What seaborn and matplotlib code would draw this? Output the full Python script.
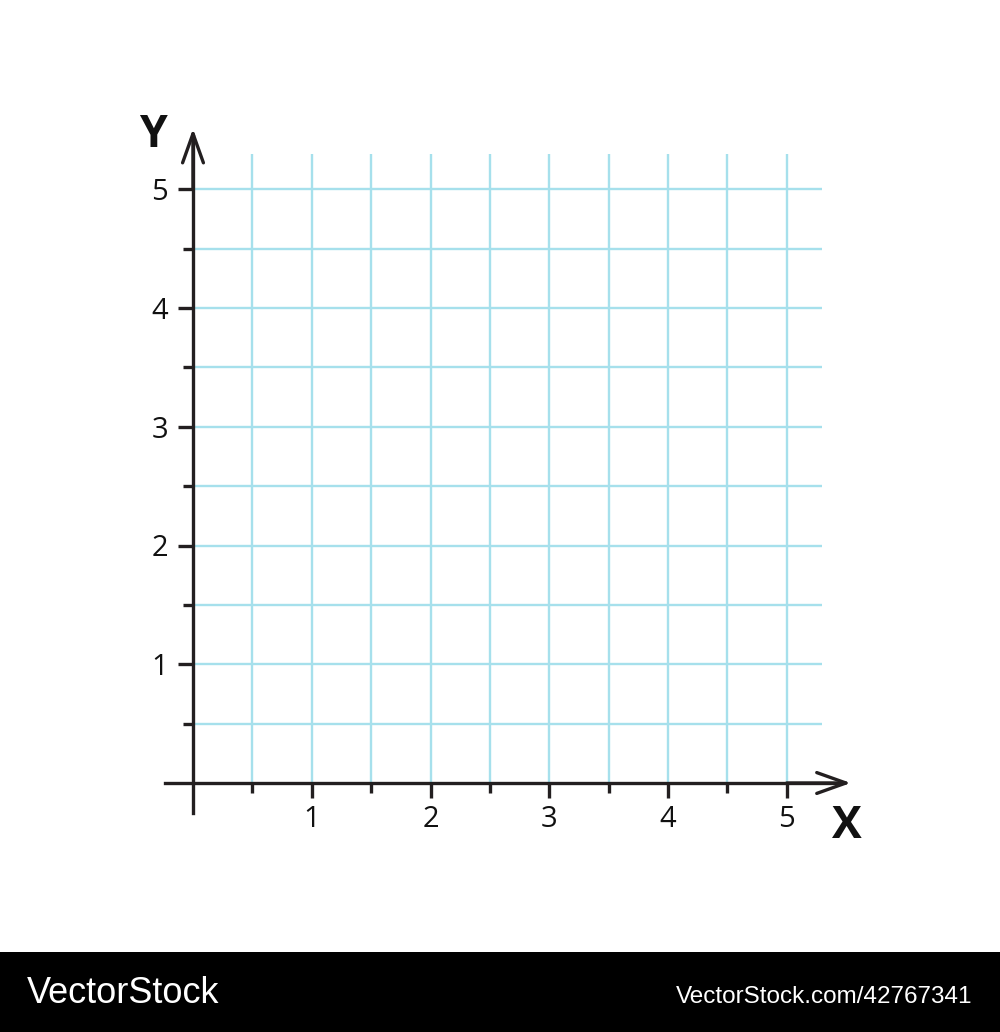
import matplotlib
matplotlib.use("Agg")
import matplotlib.pyplot as plt
from matplotlib.patches import Rectangle
import seaborn as sns

# tick values and grid positions (units of the chart)
x_major = [1, 2, 3, 4, 5]
x_minor = [0.5, 1.5, 2.5, 3.5, 4.5]
y_major = [1, 2, 3, 4, 5]
y_minor = [0.5, 1.5, 2.5, 3.5, 4.5]
x_labels = ["1", "2", "3", "4", "5"]
y_labels = ["1", "2", "3", "4", "5"]
grid_vals = [0.5, 1.0, 1.5, 2.0, 2.5, 3.0, 3.5, 4.0, 4.5, 5.0]
grid_end = 5.3

sns.set_theme(style="white")
plt.rcParams['font.family'] = ['Open Sans', 'DejaVu Sans']

axis_col = "#231f20"
grid_col = "#a6e0ec"

W, H = 1000, 1032
fig = plt.figure(figsize=(W / 100, H / 100), dpi=100)

# axes placed so that 1 unit = 118.75 px, origin at pixel (193, 783)
scale = 118.75
ox, oy = 193, 783
x0, x1 = -0.5, 5.8
y0, y1 = -0.5, 5.8
left = (ox + scale * x0) / W
bottom = (H - (oy - scale * y0)) / H
ax = fig.add_axes([left, bottom, scale * (x1 - x0) / W, scale * (y1 - y0) / H])
ax.set_xlim(x0, x1)
ax.set_ylim(y0, y1)
ax.patch.set_alpha(0)

# light blue grid
ax.vlines(grid_vals, 0, grid_end, color=grid_col, lw=1.7, zorder=1)
ax.hlines(grid_vals, 0, grid_end, color=grid_col, lw=1.7, zorder=1)

# axes through the origin
for s in ["top", "right"]:
    ax.spines[s].set_visible(False)
ax.spines["left"].set_position(("data", 0))
ax.spines["bottom"].set_position(("data", 0))
ax.spines["left"].set_bounds(-0.25, 5.45)
ax.spines["bottom"].set_bounds(-0.24, 5.45)
for s in ["left", "bottom"]:
    ax.spines[s].set_color(axis_col)
    ax.spines[s].set_linewidth(2.4)
    ax.spines[s].set_zorder(3)

arrow = dict(arrowstyle="->,head_length=21,head_width=7.5", color=axis_col,
             lw=2.4, mutation_scale=1, shrinkA=0, shrinkB=0)
ax.annotate("", xy=(0, 5.51), xytext=(0, 5.0), arrowprops=arrow, zorder=3)
ax.annotate("", xy=(5.54, 0), xytext=(5.0, 0), arrowprops=arrow, zorder=3)

ax.set_xticks(x_major)
ax.set_xticklabels(x_labels)
ax.set_xticks(x_minor, minor=True)
ax.set_yticks(y_major)
ax.set_yticklabels(y_labels)
ax.set_yticks(y_minor, minor=True)
ax.tick_params(which="major", direction="out", length=11, width=2.4,
               color=axis_col, labelsize=21, labelcolor="#111111")
ax.tick_params(axis="y", which="major", pad=7)
ax.tick_params(axis="x", which="major", pad=5)
ax.tick_params(which="minor", direction="out", length=7.5, width=2.4, color=axis_col)
ax.xaxis.set_ticks_position("bottom")
ax.yaxis.set_ticks_position("left")

# axis names
fig.text(153 / W, 1 - 147 / H, "Y", ha="center", va="baseline",
         fontsize=32, fontweight="bold", color="#111111")
fig.text(847 / W, 1 - 838 / H, "X", ha="center", va="baseline",
         fontsize=32, fontweight="bold", color="#111111")

# bottom banner
fig.patches.append(Rectangle((0, 0), 1, 80 / H, transform=fig.transFigure,
                             facecolor="black", edgecolor="none", zorder=0))
fig.text(27 / W, 1 - 1003 / H, "VectorStock", ha="left", va="baseline",
         fontsize=26, color="white", family=["Liberation Sans", "DejaVu Sans"])
fig.text(972 / W, 1 - 1003 / H, "VectorStock.com/42767341", ha="right", va="baseline",
         fontsize=17.5, color="white", family=["Liberation Sans", "DejaVu Sans"])

fig.savefig("out.png", dpi=100, facecolor="white")
